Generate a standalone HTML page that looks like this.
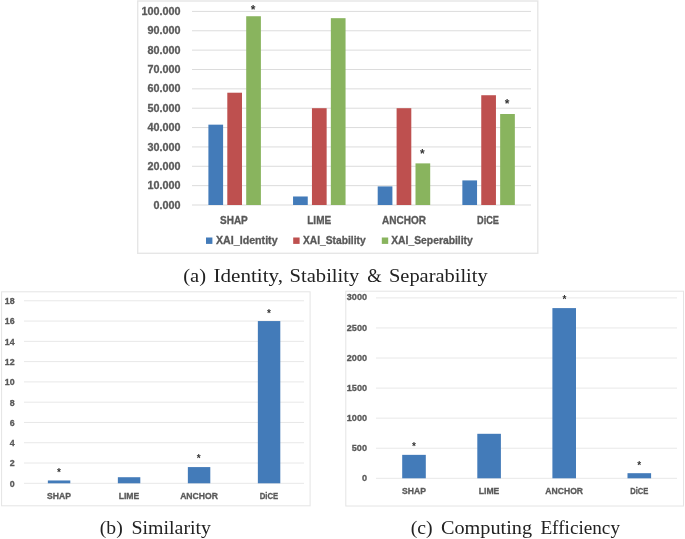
<!DOCTYPE html><html><head><meta charset="utf-8"><title>XAI metrics</title><style>
html,body{margin:0;padding:0;background:#fff}svg{display:block}
.t{font-family:"Liberation Sans",sans-serif;font-weight:bold;fill:#595959;stroke:#595959;stroke-width:.3px}
.c{font-family:"Liberation Serif",serif;fill:#222}
.s{font-family:"Liberation Sans",sans-serif;fill:#333;font-weight:bold}
</style></head><body>
<svg width="685" height="539" viewBox="0 0 685 539">
<rect width="685" height="539" fill="#fff"/>
<rect x="137.70" y="1.00" width="400.10" height="252.30" fill="#fff" stroke="#E6E6E6" stroke-width="1.4"/>
<rect x="192.00" y="204.50" width="339.00" height="1" fill="#DCDCDC"/>
<text class="t" x="180.50" y="208.60" font-size="10.8" text-anchor="end">0.000</text>
<rect x="192.00" y="185.14" width="339.00" height="1" fill="#DCDCDC"/>
<text class="t" x="180.50" y="189.24" font-size="10.8" text-anchor="end">10.000</text>
<rect x="192.00" y="165.78" width="339.00" height="1" fill="#DCDCDC"/>
<text class="t" x="180.50" y="169.88" font-size="10.8" text-anchor="end">20.000</text>
<rect x="192.00" y="146.42" width="339.00" height="1" fill="#DCDCDC"/>
<text class="t" x="180.50" y="150.52" font-size="10.8" text-anchor="end">30.000</text>
<rect x="192.00" y="127.06" width="339.00" height="1" fill="#DCDCDC"/>
<text class="t" x="180.50" y="131.16" font-size="10.8" text-anchor="end">40.000</text>
<rect x="192.00" y="107.70" width="339.00" height="1" fill="#DCDCDC"/>
<text class="t" x="180.50" y="111.80" font-size="10.8" text-anchor="end">50.000</text>
<rect x="192.00" y="88.34" width="339.00" height="1" fill="#DCDCDC"/>
<text class="t" x="180.50" y="92.44" font-size="10.8" text-anchor="end">60.000</text>
<rect x="192.00" y="68.98" width="339.00" height="1" fill="#DCDCDC"/>
<text class="t" x="180.50" y="73.08" font-size="10.8" text-anchor="end">70.000</text>
<rect x="192.00" y="49.62" width="339.00" height="1" fill="#DCDCDC"/>
<text class="t" x="180.50" y="53.72" font-size="10.8" text-anchor="end">80.000</text>
<rect x="192.00" y="30.26" width="339.00" height="1" fill="#DCDCDC"/>
<text class="t" x="180.50" y="34.36" font-size="10.8" text-anchor="end">90.000</text>
<rect x="192.00" y="10.90" width="339.00" height="1" fill="#DCDCDC"/>
<text class="t" x="180.50" y="15.00" font-size="10.8" text-anchor="end">100.000</text>
<rect x="208.40" y="124.66" width="14.70" height="80.34" fill="#437BB9"/>
<rect x="227.30" y="92.71" width="14.70" height="112.29" fill="#BE504F"/>
<rect x="246.20" y="16.24" width="14.70" height="188.76" fill="#89B45E"/>
<text class="t" x="233.90" y="224.00" font-size="10" text-anchor="middle">SHAP</text>
<rect x="293.05" y="196.48" width="14.70" height="8.52" fill="#437BB9"/>
<rect x="311.95" y="108.20" width="14.70" height="96.80" fill="#BE504F"/>
<rect x="330.85" y="18.18" width="14.70" height="186.82" fill="#89B45E"/>
<text class="t" x="319.20" y="224.00" font-size="10" text-anchor="middle">LIME</text>
<rect x="377.70" y="186.41" width="14.70" height="18.59" fill="#437BB9"/>
<rect x="396.60" y="108.20" width="14.70" height="96.80" fill="#BE504F"/>
<rect x="415.50" y="163.38" width="14.70" height="41.62" fill="#89B45E"/>
<text class="t" x="404.00" y="224.00" font-size="10" text-anchor="middle">ANCHOR</text>
<rect x="462.35" y="180.41" width="14.70" height="24.59" fill="#437BB9"/>
<rect x="481.25" y="95.23" width="14.70" height="109.77" fill="#BE504F"/>
<rect x="500.15" y="114.01" width="14.70" height="90.99" fill="#89B45E"/>
<text class="t" x="488.00" y="224.00" font-size="10" text-anchor="middle" textLength="22.0" lengthAdjust="spacingAndGlyphs">DiCE</text>
<rect x="206.00" y="237.50" width="6.40" height="6.40" fill="#437BB9"/>
<text class="t" x="216.00" y="243.70" font-size="10" text-anchor="start" textLength="61.6" lengthAdjust="spacingAndGlyphs">XAI_Identity</text>
<rect x="293.20" y="237.50" width="6.40" height="6.40" fill="#BE504F"/>
<text class="t" x="303.00" y="243.70" font-size="10" text-anchor="start" textLength="62.6" lengthAdjust="spacingAndGlyphs">XAI_Stability</text>
<rect x="381.80" y="237.50" width="6.40" height="6.40" fill="#89B45E"/>
<text class="t" x="391.20" y="243.70" font-size="10" text-anchor="start" textLength="81.6" lengthAdjust="spacingAndGlyphs">XAI_Seperability</text>
<text class="s" x="253.20" y="13.88" font-size="12" text-anchor="middle">*</text>
<text class="s" x="422.40" y="157.78" font-size="12" text-anchor="middle">*</text>
<text class="s" x="507.20" y="108.48" font-size="12" text-anchor="middle">*</text>
<text class="c" x="183.20" y="282.40" font-size="19" text-anchor="start" textLength="22.8" lengthAdjust="spacingAndGlyphs">(a)</text>
<text class="c" x="213.50" y="282.40" font-size="19" text-anchor="start" textLength="69.5" lengthAdjust="spacingAndGlyphs">Identity,</text>
<text class="c" x="289.60" y="282.40" font-size="19" text-anchor="start" textLength="69.7" lengthAdjust="spacingAndGlyphs">Stability</text>
<text class="c" x="367.20" y="282.40" font-size="19" text-anchor="start" textLength="14.4" lengthAdjust="spacingAndGlyphs">&amp;</text>
<text class="c" x="389.00" y="282.40" font-size="19" text-anchor="start" textLength="98.6" lengthAdjust="spacingAndGlyphs">Separability</text>
<rect x="1.60" y="291.80" width="308.50" height="214.00" fill="#fff" stroke="#E4E4E4" stroke-width="1"/>
<rect x="24.00" y="482.80" width="280.00" height="1" fill="#E8E8E8"/>
<text class="t" x="14.60" y="486.70" font-size="8.8" text-anchor="end">0</text>
<rect x="24.00" y="462.52" width="280.00" height="1" fill="#E8E8E8"/>
<text class="t" x="14.60" y="466.42" font-size="8.8" text-anchor="end">2</text>
<rect x="24.00" y="442.24" width="280.00" height="1" fill="#E8E8E8"/>
<text class="t" x="14.60" y="446.14" font-size="8.8" text-anchor="end">4</text>
<rect x="24.00" y="421.96" width="280.00" height="1" fill="#E8E8E8"/>
<text class="t" x="14.60" y="425.86" font-size="8.8" text-anchor="end">6</text>
<rect x="24.00" y="401.68" width="280.00" height="1" fill="#E8E8E8"/>
<text class="t" x="14.60" y="405.58" font-size="8.8" text-anchor="end">8</text>
<rect x="24.00" y="381.40" width="280.00" height="1" fill="#E8E8E8"/>
<text class="t" x="14.60" y="385.30" font-size="8.8" text-anchor="end">10</text>
<rect x="24.00" y="361.12" width="280.00" height="1" fill="#E8E8E8"/>
<text class="t" x="14.60" y="365.02" font-size="8.8" text-anchor="end">12</text>
<rect x="24.00" y="340.84" width="280.00" height="1" fill="#E8E8E8"/>
<text class="t" x="14.60" y="344.74" font-size="8.8" text-anchor="end">14</text>
<rect x="24.00" y="320.56" width="280.00" height="1" fill="#E8E8E8"/>
<text class="t" x="14.60" y="324.46" font-size="8.8" text-anchor="end">16</text>
<rect x="24.00" y="300.28" width="280.00" height="1" fill="#E8E8E8"/>
<text class="t" x="14.60" y="304.18" font-size="8.8" text-anchor="end">18</text>
<rect x="47.85" y="480.46" width="22.45" height="2.84" fill="#437BB9"/>
<text class="t" x="59.00" y="499.10" font-size="8.6" text-anchor="middle">SHAP</text>
<rect x="117.85" y="477.22" width="22.45" height="6.08" fill="#437BB9"/>
<text class="t" x="129.00" y="499.10" font-size="8.6" text-anchor="middle">LIME</text>
<rect x="187.85" y="467.08" width="22.45" height="16.22" fill="#437BB9"/>
<text class="t" x="199.00" y="499.10" font-size="8.6" text-anchor="middle">ANCHOR</text>
<rect x="257.85" y="321.06" width="22.45" height="162.24" fill="#437BB9"/>
<text class="t" x="269.00" y="499.10" font-size="8.6" text-anchor="middle" textLength="18.6" lengthAdjust="spacingAndGlyphs">DiCE</text>
<text class="s" x="59.00" y="475.80" font-size="10" text-anchor="middle">*</text>
<text class="s" x="198.60" y="462.40" font-size="10" text-anchor="middle">*</text>
<text class="s" x="269.00" y="316.80" font-size="10" text-anchor="middle">*</text>
<text class="c" x="99.80" y="534.10" font-size="19" text-anchor="start" textLength="22.9" lengthAdjust="spacingAndGlyphs">(b)</text>
<text class="c" x="131.50" y="534.10" font-size="19" text-anchor="start" textLength="79.5" lengthAdjust="spacingAndGlyphs">Similarity</text>
<rect x="345.80" y="291.20" width="337.70" height="214.80" fill="#fff" stroke="#E4E4E4" stroke-width="1"/>
<rect x="376.00" y="477.80" width="301.00" height="1" fill="#E8E8E8"/>
<text class="t" x="367.00" y="480.90" font-size="9.1" text-anchor="end">0</text>
<rect x="376.00" y="447.73" width="301.00" height="1" fill="#E8E8E8"/>
<text class="t" x="367.00" y="450.83" font-size="9.1" text-anchor="end">500</text>
<rect x="376.00" y="417.66" width="301.00" height="1" fill="#E8E8E8"/>
<text class="t" x="367.00" y="420.76" font-size="9.1" text-anchor="end">1000</text>
<rect x="376.00" y="387.59" width="301.00" height="1" fill="#E8E8E8"/>
<text class="t" x="367.00" y="390.69" font-size="9.1" text-anchor="end">1500</text>
<rect x="376.00" y="357.52" width="301.00" height="1" fill="#E8E8E8"/>
<text class="t" x="367.00" y="360.62" font-size="9.1" text-anchor="end">2000</text>
<rect x="376.00" y="327.45" width="301.00" height="1" fill="#E8E8E8"/>
<text class="t" x="367.00" y="330.55" font-size="9.1" text-anchor="end">2500</text>
<rect x="376.00" y="297.38" width="301.00" height="1" fill="#E8E8E8"/>
<text class="t" x="367.00" y="300.48" font-size="9.1" text-anchor="end">3000</text>
<rect x="402.20" y="454.85" width="23.60" height="23.45" fill="#437BB9"/>
<text class="t" x="414.00" y="494.40" font-size="8.6" text-anchor="middle">SHAP</text>
<rect x="477.30" y="433.80" width="23.60" height="44.50" fill="#437BB9"/>
<text class="t" x="489.10" y="494.40" font-size="8.6" text-anchor="middle">LIME</text>
<rect x="552.40" y="308.10" width="23.60" height="170.20" fill="#437BB9"/>
<text class="t" x="564.20" y="494.40" font-size="8.6" text-anchor="middle">ANCHOR</text>
<rect x="627.50" y="473.19" width="23.60" height="5.11" fill="#437BB9"/>
<text class="t" x="639.30" y="494.40" font-size="8.6" text-anchor="middle" textLength="18.2" lengthAdjust="spacingAndGlyphs">DiCE</text>
<text class="s" x="414.00" y="450.40" font-size="10" text-anchor="middle">*</text>
<text class="s" x="564.40" y="303.40" font-size="10" text-anchor="middle">*</text>
<text class="s" x="639.20" y="468.80" font-size="10" text-anchor="middle">*</text>
<text class="c" x="410.70" y="534.30" font-size="19" text-anchor="start" textLength="21.9" lengthAdjust="spacingAndGlyphs">(c)</text>
<text class="c" x="441.00" y="534.30" font-size="19" text-anchor="start" textLength="91.0" lengthAdjust="spacingAndGlyphs">Computing</text>
<text class="c" x="540.40" y="534.30" font-size="19" text-anchor="start" textLength="79.6" lengthAdjust="spacingAndGlyphs">Efficiency</text>
</svg></body></html>
